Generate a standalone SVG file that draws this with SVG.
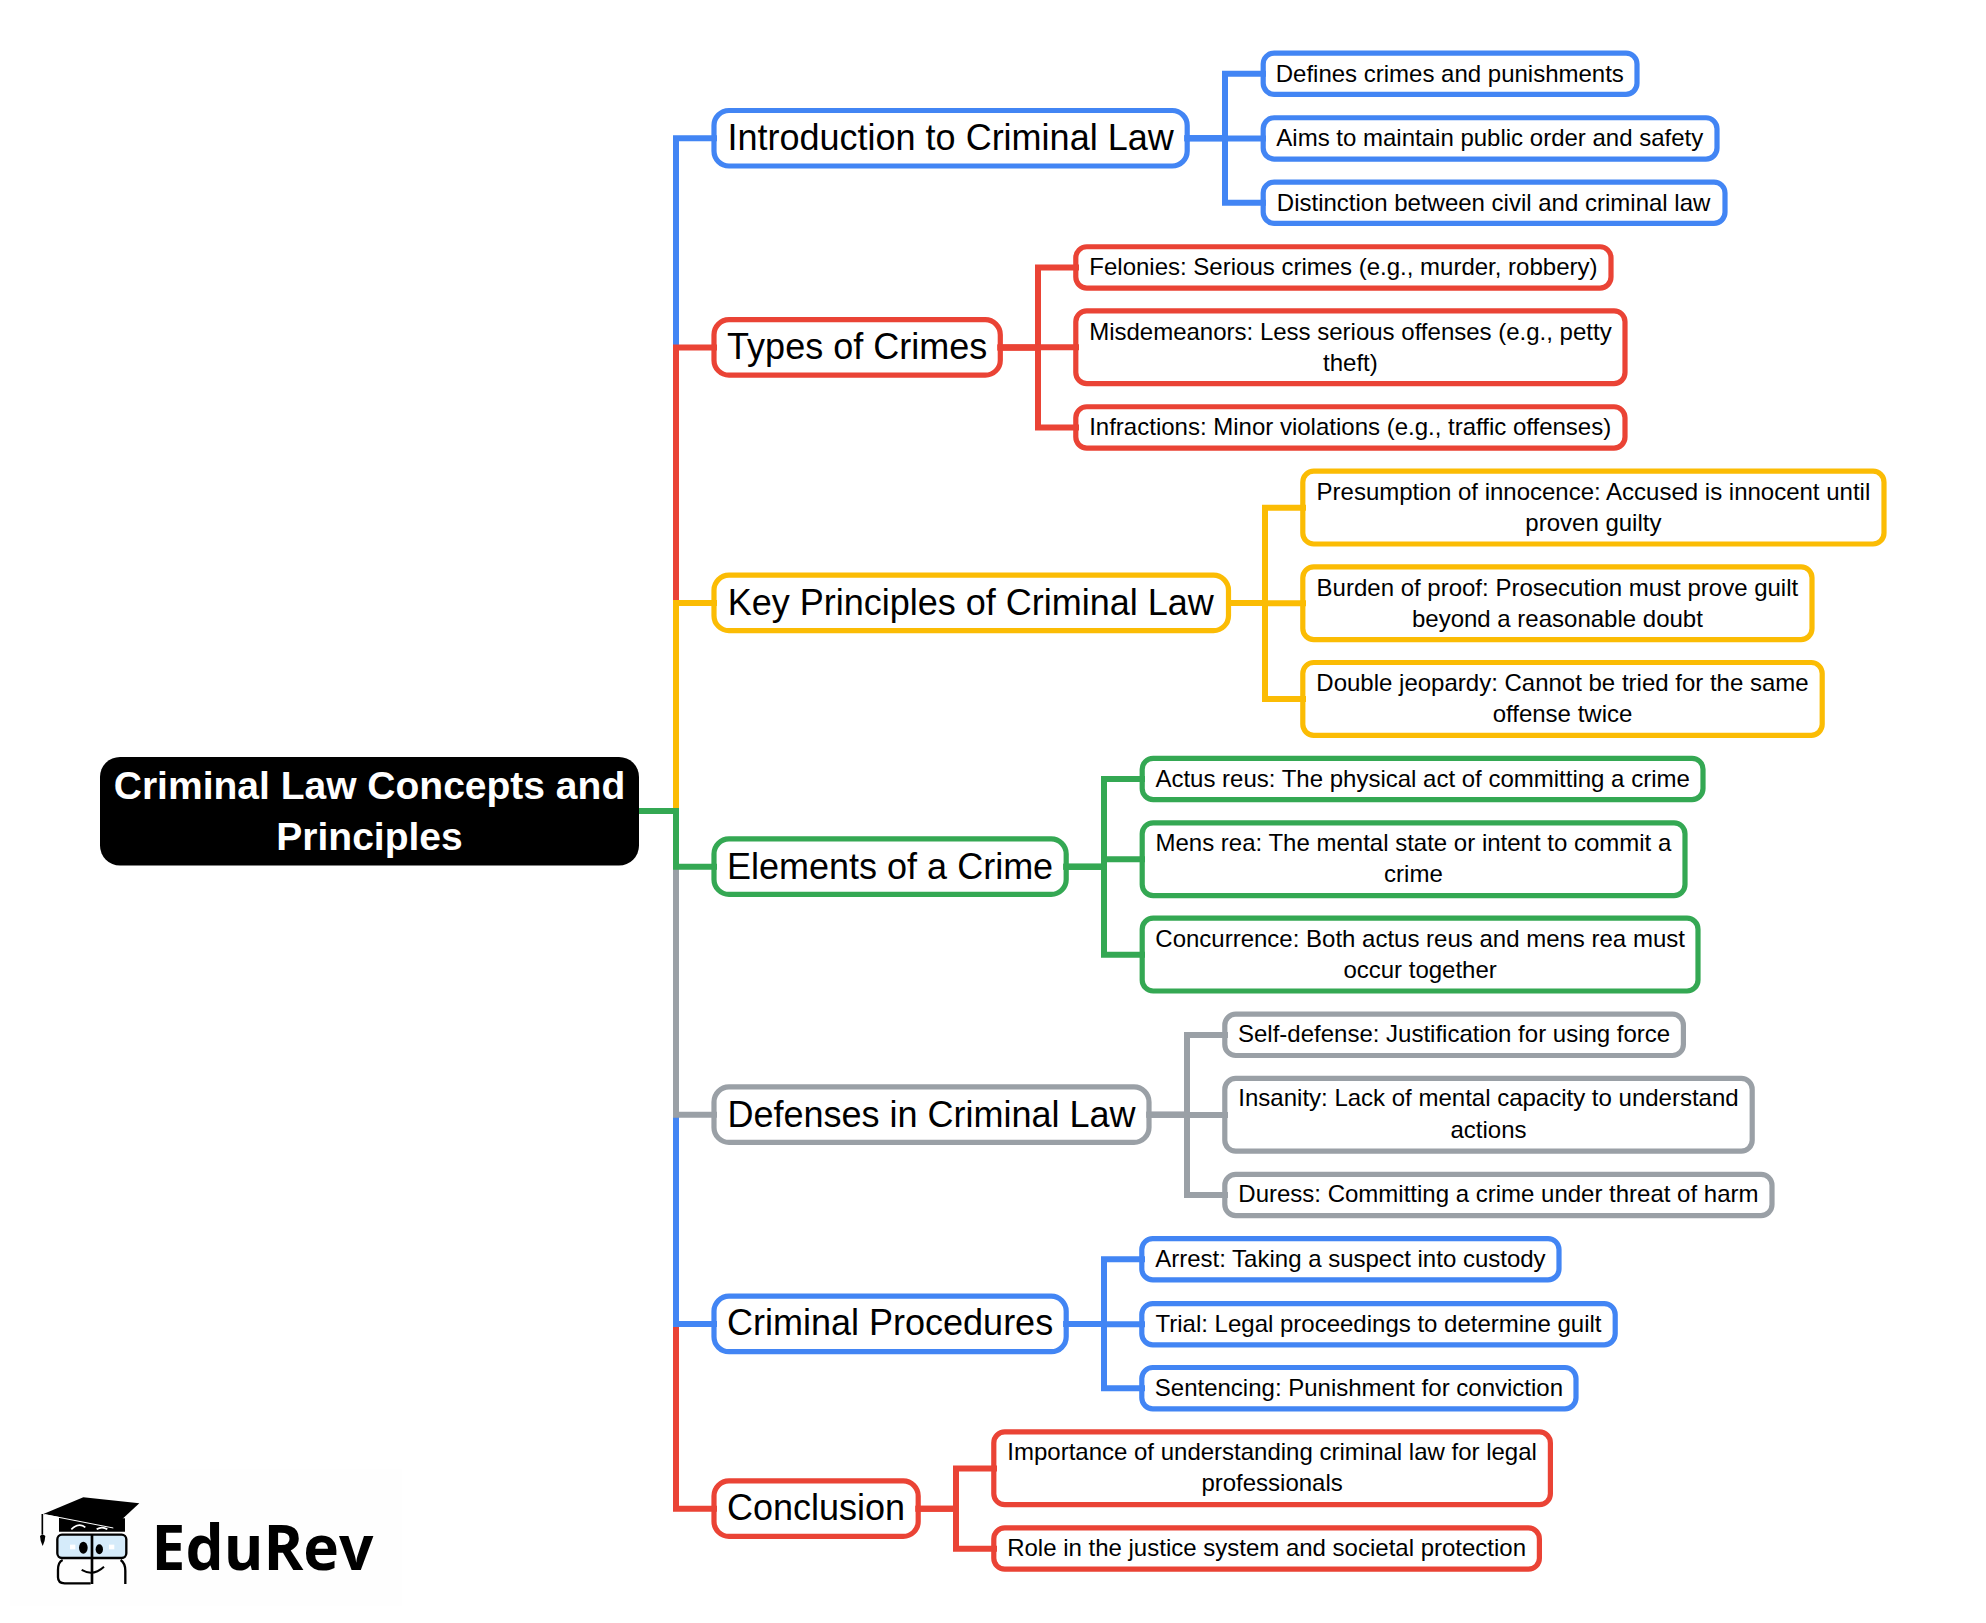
<svg xmlns="http://www.w3.org/2000/svg" width="1986" height="1623" viewBox="0 0 1986 1623">
<style>
text{font-family:"Liberation Sans",Arial,sans-serif;fill:#000;text-anchor:middle}
.l1 rect,.l2 rect{fill:#fff;stroke-width:5.2}
.l1 rect{rx:15px;ry:15px}
.l2 rect{rx:11px;ry:11px}
.l1 text{font-size:36px}
.l2 text{font-size:24px}
.b rect{stroke:#4285F4}.r rect{stroke:#EA4335}.y rect{stroke:#FBBC04}.g rect{stroke:#34A853}.k rect{stroke:#9AA0A6}
#connectors path{fill:none;stroke-width:6;stroke-linejoin:miter}
.cb{stroke:#4285F4}.cr{stroke:#EA4335}.cy{stroke:#FBBC04}.cg{stroke:#34A853}.ck{stroke:#9AA0A6}
</style>
<rect width="1986" height="1623" fill="#fff"/>
<g id="root"><rect x="100" y="757" width="539" height="108.6" rx="20" fill="#000"/>
<text x="369.5" y="799" font-size="39" font-weight="700" style="fill:#fff">Criminal Law Concepts and</text>
<text x="369.5" y="850" font-size="39" font-weight="700" style="fill:#fff">Principles</text></g>
<g id="n1" class="l1 b"><rect x="714" y="110.5" width="473.2" height="55.5"/><text x="950.6" y="150.1">Introduction to Criminal Law</text></g>
<g id="n2" class="l1 r"><rect x="714" y="319.65" width="286.3" height="55.5"/><text x="857.15" y="359">Types of Crimes</text></g>
<g id="n3" class="l1 y"><rect x="714" y="575.15" width="514.5" height="55.5"/><text x="970.75" y="614.8">Key Principles of Criminal Law</text></g>
<g id="n4" class="l1 g"><rect x="714" y="838.9" width="352.2" height="55.5"/><text x="890.1" y="878.6">Elements of a Crime</text></g>
<g id="n5" class="l1 k"><rect x="714" y="1086.9" width="435" height="55.5"/><text x="931.5" y="1126.6">Defenses in Criminal Law</text></g>
<g id="n6" class="l1 b"><rect x="714" y="1296.2" width="352.2" height="55.5"/><text x="890.1" y="1335.4">Criminal Procedures</text></g>
<g id="n7" class="l1 r"><rect x="714" y="1480.9" width="204.2" height="55.5"/><text x="816.1" y="1520">Conclusion</text></g>

<g id="n1a" class="l2 b"><rect x="1263.2" y="53.05" width="373.8" height="41.3"/><text x="1449.8" y="81.7">Defines crimes and punishments</text></g>
<g id="n1b" class="l2 b"><rect x="1263.2" y="117.75" width="453.8" height="41.3"/><text x="1489.8" y="146.3">Aims to maintain public order and safety</text></g>
<g id="n1c" class="l2 b"><rect x="1263.2" y="182.05" width="461.8" height="41.3"/><text x="1493.6" y="210.6">Distinction between civil and criminal law</text></g>
<g id="n2a" class="l2 r"><rect x="1075.8" y="246.75" width="535.2" height="41.3"/><text x="1343.4" y="275">Felonies: Serious crimes (e.g., murder, robbery)</text></g>
<g id="n2b" class="l2 r"><rect x="1075.8" y="310.8" width="549.2" height="72.8"/><text x="1350.4" y="339.6">Misdemeanors: Less serious offenses (e.g., petty</text><text x="1350.4" y="370.8">theft)</text></g>
<g id="n2c" class="l2 r"><rect x="1075.8" y="406.75" width="549.2" height="41.3"/><text x="1350.2" y="435">Infractions: Minor violations (e.g., traffic offenses)</text></g>
<g id="n3a" class="l2 y"><rect x="1302.8" y="471.2" width="581.2" height="72.8"/><text x="1593.4" y="499.6">Presumption of innocence: Accused is innocent until</text><text x="1593.4" y="530.8">proven guilty</text></g>
<g id="n3b" class="l2 y"><rect x="1302.8" y="566.8" width="509.2" height="72.8"/><text x="1557.4" y="595.6">Burden of proof: Prosecution must prove guilt</text><text x="1557.4" y="626.8">beyond a reasonable doubt</text></g>
<g id="n3c" class="l2 y"><rect x="1302.8" y="662.5" width="519.4" height="72.8"/><text x="1562.5" y="690.9">Double jeopardy: Cannot be tried for the same</text><text x="1562.5" y="722.1">offense twice</text></g>
<g id="n4a" class="l2 g"><rect x="1142.2" y="758.3" width="560.8" height="41.3"/><text x="1422.6" y="786.6">Actus reus: The physical act of committing a crime</text></g>
<g id="n4b" class="l2 g"><rect x="1142.2" y="822.8" width="542.8" height="72.8"/><text x="1413.4" y="851.2">Mens rea: The mental state or intent to commit a</text><text x="1413.4" y="882.4">crime</text></g>
<g id="n4c" class="l2 g"><rect x="1142.2" y="918.2" width="555.8" height="72.8"/><text x="1420.1" y="946.6">Concurrence: Both actus reus and mens rea must</text><text x="1420.1" y="977.8">occur together</text></g>
<g id="n5a" class="l2 k"><rect x="1224.8" y="1014.2" width="458.6" height="41.3"/><text x="1454.1" y="1042.4">Self-defense: Justification for using force</text></g>
<g id="n5b" class="l2 k"><rect x="1224.8" y="1078.4" width="527.4" height="72.8"/><text x="1488.5" y="1106.4">Insanity: Lack of mental capacity to understand</text><text x="1488.5" y="1137.8">actions</text></g>
<g id="n5c" class="l2 k"><rect x="1224.8" y="1174.3" width="547.2" height="41.3"/><text x="1498.4" y="1202.2">Duress: Committing a crime under threat of harm</text></g>
<g id="n6a" class="l2 b"><rect x="1141.8" y="1238.55" width="417.2" height="41.3"/><text x="1350.4" y="1266.8">Arrest: Taking a suspect into custody</text></g>
<g id="n6b" class="l2 b"><rect x="1141.8" y="1303.55" width="473.4" height="41.3"/><text x="1378.5" y="1331.8">Trial: Legal proceedings to determine guilt</text></g>
<g id="n6c" class="l2 b"><rect x="1141.8" y="1367.5" width="434.2" height="41.3"/><text x="1358.9" y="1396">Sentencing: Punishment for conviction</text></g>
<g id="n7a" class="l2 r"><rect x="993.8" y="1431.9" width="556.6" height="72.8"/><text x="1272.1" y="1460.2">Importance of understanding criminal law for legal</text><text x="1272.1" y="1491.4">professionals</text></g>
<g id="n7b" class="l2 r"><rect x="993.8" y="1527.9" width="545.6" height="41.3"/><text x="1266.6" y="1556.2">Role in the justice system and societal protection</text></g>

<g id="connectors">
<path class="cb" d="M639 811H676V138.3H717"/>
<path class="cr" d="M639 811H676V347.5H717"/>
<path class="cy" d="M639 811H676V603H717"/>
<path class="cr" d="M639 811H676V1508.7H717"/>
<path class="cb" d="M639 811H676V1324H717"/>
<path class="ck" d="M639 811H676V1114.7H717"/>
<path class="cg" d="M639 811H676V866.7H717"/>
<path class="cb" d="M1184.5 138.3H1225V73.8H1266"/>
<path class="cb" d="M1184.5 138.3H1225V202.8H1266"/>
<path class="cb" d="M1184.5 138.3H1225V138.5H1266"/>
<path class="cr" d="M997.6 347.5H1038V267.5H1079"/>
<path class="cr" d="M997.6 347.5H1038V427.5H1079"/>
<path class="cr" d="M997.6 347.5H1038V347.3H1079"/>
<path class="cy" d="M1226 603H1265V507.7H1306"/>
<path class="cy" d="M1226 603H1265V699H1306"/>
<path class="cy" d="M1226 603H1265V603.3H1306"/>
<path class="cg" d="M1063.5 866.7H1104V779H1145"/>
<path class="cg" d="M1063.5 866.7H1104V954.7H1145"/>
<path class="cg" d="M1063.5 866.7H1104V859.3H1145"/>
<path class="ck" d="M1146.5 1114.7H1187V1035H1228"/>
<path class="ck" d="M1146.5 1114.7H1187V1195H1228"/>
<path class="ck" d="M1146.5 1114.7H1187V1115H1228"/>
<path class="cb" d="M1063.5 1324H1104V1259.3H1145"/>
<path class="cb" d="M1063.5 1324H1104V1388.2H1145"/>
<path class="cb" d="M1063.5 1324H1104V1324.2H1145"/>
<path class="cr" d="M915.5 1508.7H956V1468.4H997"/>
<path class="cr" d="M915.5 1508.7H956V1548.7H997"/>
</g>

<g id="logo">
<rect x="10" y="1469" width="392" height="137" fill="#fefefe"/>
<g transform="translate(0 1440) scale(.3333)">
<path d="M177 232V275L375 275V235Z" fill="#000"/>
<path d="M130 222L250 172L418 190L340 262Z" fill="#000"/>
<path d="M135 224L340 264" stroke="#fff" stroke-width="3" fill="none"/>
<path d="M214 268Q236 246 256 262M290 268Q306 258 322 268" stroke="#fff" stroke-width="5" fill="none"/>
<path d="M127 222V284" stroke="#000" stroke-width="5" fill="none"/>
<path d="M120 288Q128 280 136 288Q136 300 128 318Q120 300 120 288Z" fill="#000"/>
<rect x="172" y="284" width="207" height="70" rx="14" fill="#d5ebfa" stroke="#000" stroke-width="7"/>
<path d="M272 282V432H280V282Z" fill="#000"/>
<path d="M188 360Q174 366 174 390V412Q174 430 194 430H272" fill="none" stroke="#000" stroke-width="7"/>
<path d="M362 360Q376 370 376 392V432" fill="none" stroke="#000" stroke-width="7"/>
<path d="M245 390Q280 410 312 380" fill="none" stroke="#000" stroke-width="6"/>
<ellipse cx="250" cy="323" rx="13" ry="18" fill="#000"/>
<ellipse cx="298" cy="328" rx="11" ry="15" fill="#000"/>
<rect x="210" y="314" width="16" height="14" fill="#fff"/>
<rect x="327" y="314" width="16" height="14" fill="#fff"/>
</g>
<text x="262.5" y="1570" font-size="63" font-weight="700" style="font-family:'Open Sans','Noto Sans',sans-serif" textLength="222" lengthAdjust="spacingAndGlyphs">EduRev</text>
</g>
</svg>
